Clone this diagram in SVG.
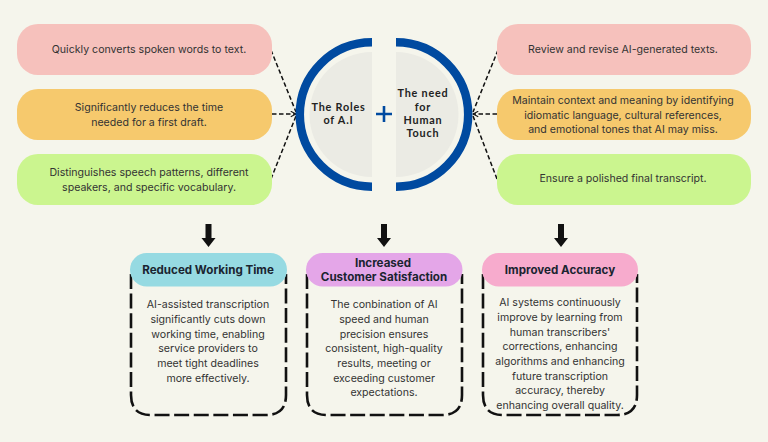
<svg xmlns="http://www.w3.org/2000/svg" width="768" height="442" viewBox="0 0 768 442">
<defs>
<style>
.t{font-family:"Inter","Liberation Sans",sans-serif;font-size:10.6px;fill:#333;text-anchor:middle}
.h{font-family:"Inter","Liberation Sans",sans-serif;font-size:11.6px;font-weight:700;fill:#1a2430;text-anchor:middle}
.c{font-family:"Lato","Liberation Sans",sans-serif;font-size:10.8px;font-weight:700;fill:#222;text-anchor:middle;letter-spacing:.8px}
.d{fill:none;stroke:#111;stroke-width:1.5;stroke-dasharray:4.5 2.5}
.b{fill:none;stroke:#111;stroke-width:2.6;stroke-dasharray:15 4.6}
.ring{fill:none;stroke:#004aa0;stroke-width:8.5}
.in{fill:#ebebe4}
</style>
<marker id="ah" viewBox="0 0 8 8" refX="7" refY="4" markerWidth="7" markerHeight="7" orient="auto" markerUnits="userSpaceOnUse"><path d="M1 0.8 7 4 1 7.2" fill="none" stroke="#111" stroke-width="1.2"/></marker>
</defs>
<rect width="768" height="442" fill="#f5f5ec"/>
<g id="connectors">
<path class="d" d="M271 50 296 112" />
<path class="d" d="M272 114H296" marker-end="url(#ah)"/>
<path class="d" d="M271 179 296 116"/>
<path class="d" d="M498 50 473 112"/>
<path class="d" d="M497 114H473" marker-end="url(#ah)"/>
<path class="d" d="M497 179 473 116"/>
<path id="a1" d="M205.500 224h6v14h4l-7 9-7-9h4z" fill="#111"/>
<path id="a2" d="M381 224h6v14h4l-7 9-7-9h4z" fill="#111"/>
<path id="a3" d="M558 224h6v14h4l-7 9-7-9h4z" fill="#111"/>
</g>
<g id="left1"><rect x="17" y="24" width="255" height="51" rx="21" fill="#f6c1bc"/><text class="t" x="149" y="53">Quickly converts spoken words to text.</text></g>
<g id="left2"><rect x="17" y="89" width="255" height="51" rx="21" fill="#f6c96d"/><text class="t" x="149" y="111">Significantly reduces the time</text><text class="t" x="149" y="125.500">needed for a first draft.</text></g>
<g id="left3"><rect x="17" y="154" width="255" height="51" rx="21" fill="#cbf58f"/><text class="t" x="149" y="176">Distinguishes speech patterns, different</text><text class="t" x="149" y="190.500">speakers, and specific vocabulary.</text></g>
<g id="right1"><rect x="497" y="24" width="254" height="51" rx="21" fill="#f6c1bc"/><text class="t" x="623" y="53">Review and revise AI-generated texts.</text></g>
<g id="right2"><rect x="497" y="89" width="254" height="51" rx="21" fill="#f6c96d"/><text class="t" x="623" y="104">Maintain context and meaning by identifying</text><text class="t" x="623" y="118.500">idiomatic language, cultural references,</text><text class="t" x="623" y="133">and emotional tones that AI may miss.</text></g>
<g id="right3"><rect x="497" y="154" width="254" height="51" rx="21" fill="#cbf58f"/><text class="t" x="623" y="182">Ensure a polished final transcript.</text></g>
<g id="center">
<path class="ring" d="M372 42.500A71.500 71.500 0 0 0 372 163.500" transform="translate(0 0)" style="display:none"/>
<path class="in" d="M372 52A62.500 62.500 0 0 0 372 177Z"/>
<path class="in" d="M396 52A62.500 62.500 0 0 1 396 177Z"/>
<path class="ring" d="M372 42.300A72.200 72.200 0 0 0 372 186.700"/>
<path class="ring" d="M396 42.300A72.200 72.200 0 0 1 396 186.700"/>
<path d="M384 106V122M376 114H392" stroke="#004aa0" stroke-width="2.600" fill="none"/>
<text class="c" x="338.500" y="111">The Roles</text><text class="c" x="338.500" y="124">of A.I</text>
<text class="c" x="423" y="97">The need</text><text class="c" x="423" y="111">for</text><text class="c" x="423" y="124">Human</text><text class="c" x="423" y="137">Touch</text>
</g>
<g id="card1"><path class="b" d="M131 274V395Q131 415 151 415H266Q286 415 286 395V274"/><rect x="130" y="253" width="157" height="33.500" rx="16.700" fill="#96dae2"/><text class="h" x="208" y="274">Reduced Working Time</text>
<text class="t" x="208" y="308">AI-assisted transcription</text><text class="t" x="208" y="323">significantly cuts down</text><text class="t" x="208" y="337.500">working time, enabling</text><text class="t" x="208" y="352">service providers to</text><text class="t" x="208" y="367">meet tight deadlines</text><text class="t" x="208" y="381.500">more effectively.</text></g>
<g id="card2"><path class="b" d="M307 274V395Q307 415 327 415H442Q462 415 462 395V274"/><rect x="306" y="253" width="156.500" height="33.500" rx="16.700" fill="#e4a6e8"/><text class="h" x="383" y="267">Increased</text><text class="h" x="384" y="281">Customer Satisfaction</text>
<text class="t" x="384" y="308">The conbination of AI</text><text class="t" x="384" y="323">speed and human</text><text class="t" x="384" y="337.500">precision ensures</text><text class="t" x="384" y="352">consistent, high-quality</text><text class="t" x="384" y="367">results, meeting or</text><text class="t" x="384" y="381.500">exceeding customer</text><text class="t" x="384" y="396">expectations.</text></g>
<g id="card3"><path class="b" d="M483 274V395Q483 415 503 415H617Q637 415 637 395V274"/><rect x="482" y="253" width="156" height="33.500" rx="16.700" fill="#f7abcd"/><text class="h" x="560" y="274">Improved Accuracy</text>
<text class="t" x="560" y="306">AI systems continuously</text><text class="t" x="560" y="321">improve by learning from</text><text class="t" x="560" y="335.500">human transcribers'</text><text class="t" x="560" y="350">corrections, enhancing</text><text class="t" x="560" y="365">algorithms and enhancing</text><text class="t" x="560" y="379.500">future transcription</text><text class="t" x="560" y="394">accuracy, thereby</text><text class="t" x="560" y="409">enhancing overall quality.</text></g>
</svg>
